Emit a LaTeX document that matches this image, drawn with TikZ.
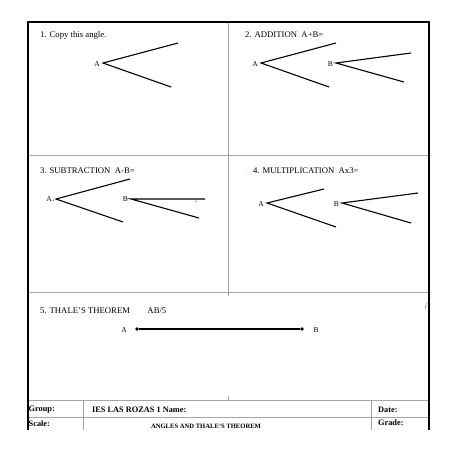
\documentclass[tikz,border=0pt]{standalone}
\usepackage{fontspec}
\setmainfont{Liberation Serif}
\begin{document}
\begin{tikzpicture}[x=1pt,y=-1pt,
  frame/.style={line width=1.6pt,black},
  grid/.style={line width=0.8pt,gray!70},
  arm/.style={line width=1.1pt,black},
  txt/.style={anchor=west,inner sep=0pt,font=\fontsize{8.7}{10}\selectfont},
  lbl/.style={inner sep=0pt,font=\fontsize{7.5}{9}\selectfont},
  bold/.style={anchor=west,inner sep=0pt,font=\fontsize{8.3}{10}\selectfont\bfseries},
  tiny/.style={inner sep=0pt,font=\fontsize{3.5}{4}\selectfont}]
\useasboundingbox (0,0) rectangle (453,453);
\fill[white] (0,0) rectangle (453,453);
% grid
\coordinate (m1) at (228,22); \coordinate (m2) at (228,292);
\draw[grid] (28,155) -- (431,155);
\draw[grid] (28,292) -- (431,292);
\draw[grid] (m1) -- (m2);
\draw[grid] (228,288) -- (228,296);
\draw[grid] (28,400) -- (429,400);
\draw[grid] (228,396) -- (228,401);
\draw[grid] (28,417) -- (429,417);
\draw[grid] (83,400) -- (83,430);
\draw[grid] (371,400) -- (371,430);
% frame
\draw[frame] (28,430) -- (28,22) -- (429,22) -- (429,430);
\draw[line width=0.5pt,gray] (425,309) -- (426.5,303);
% 1
\node[txt] (t1) at (40,35) {1. Copy this angle.};
\coordinate (a1) at (103,63); \coordinate (a1u) at (178,43); \coordinate (a1d) at (171,87);
\draw[arm] (a1u) -- (a1) -- (a1d);
\node[lbl,anchor=east] (la1) at (100,64) {A};
% 2
\node[txt] (t2) at (245,35) {2. ADDITION\ \ A+B=};
\coordinate (a2) at (261,63); \coordinate (a2u) at (336,43); \coordinate (a2d) at (329,87);
\draw[arm] (a2u) -- (a2) -- (a2d);
\node[lbl,anchor=east] (la2) at (258,64) {A};
\coordinate (b2) at (336,63); \coordinate (b2u) at (411,53); \coordinate (b2d) at (404,82);
\draw[arm] (b2u) -- (b2) -- (b2d);
\node[lbl,anchor=east] (lb2) at (333,64) {B};
% 3
\node[txt] (t3) at (40,171) {3. SUBTRACTION\ \ A-B=};
\coordinate (a3) at (56,199); \coordinate (a3u) at (130,179); \coordinate (a3d) at (123,222);
\draw[arm] (a3u) -- (a3) -- (a3d);
\node[lbl,anchor=east] (la3) at (52,199) {A};
\node[tiny] (sa3) at (53.5,201) {a};
\coordinate (b3) at (131,199); \coordinate (b3h) at (205,199); \coordinate (b3d) at (199,218);
\draw[arm] (b3h) -- (b3) -- (b3d);
\node[lbl,anchor=east] (lb3) at (128,199) {B};
\node[tiny] (sb3) at (196,202) {a};
% 4
\node[tiny] (c4) at (246,173) {,};
\node[txt] (t4) at (253,171) {4. MULTIPLICATION\ \ Ax3=};
\coordinate (a4) at (267,203); \coordinate (a4u) at (324,189); \coordinate (a4d) at (336,227);
\draw[arm] (a4u) -- (a4) -- (a4d);
\node[lbl,anchor=east] (la4) at (264,204) {A};
\coordinate (b4) at (342,203); \coordinate (b4u) at (418,193); \coordinate (b4d) at (411,223);
\draw[arm] (b4u) -- (b4) -- (b4d);
\node[lbl,anchor=east] (lb4) at (339,204) {B};
% 5
\node[txt] (t5) at (40,311) {5. THALE'S THEOREM\qquad AB/5};
\node[circle,fill,inner sep=1.3pt] (pA) at (137,329) {};
\node[circle,fill,inner sep=1.3pt] (pB) at (302,329) {};
\draw[arm] (pA) -- (pB);
\node[lbl] (lA) at (124,330) {A};
\node[lbl] (lB) at (316,330) {B};
% title block
\node[bold] (g) at (28.5,410) {Group:};
\node[bold] (n) at (92,410) {IES LAS ROZAS 1 Name:};
\node[bold] (d) at (378,410) {Date:};
\node[bold] (s) at (28.5,424) {Scale:};
\node[inner sep=0pt,font=\fontsize{6.6}{7}\selectfont\bfseries] (ti) at (206,426) {ANGLES AND THALE'S THEOREM};
\node[bold] (gr) at (378,423) {Grade:};
\end{tikzpicture}
\end{document}
